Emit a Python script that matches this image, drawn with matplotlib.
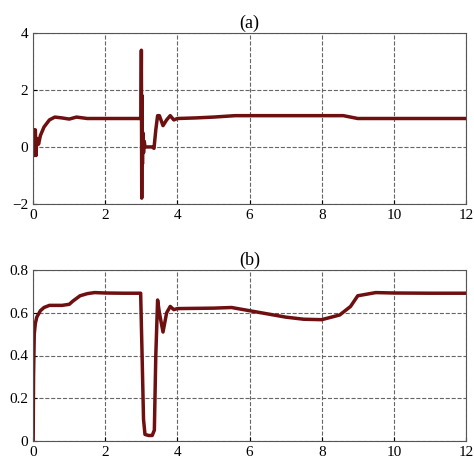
import numpy as np
import matplotlib
matplotlib.use("Agg")
import matplotlib.pyplot as plt

# panel (a) points
ta = [0.0, 0.02, 0.04, 0.06, 0.08, 0.1, 0.15, 0.2, 0.3, 0.45, 0.6, 0.8, 1.0, 1.2, 1.5, 2.0, 2.5, 2.97,
      2.99, 3.0, 3.01, 3.02, 3.03, 3.04, 3.06, 3.08, 3.1, 3.2, 3.3, 3.35, 3.4, 3.45, 3.5, 3.6, 3.7,
      3.8, 3.9, 4.0, 4.5, 5.0, 5.6, 6.0, 7.0, 8.0, 8.6, 8.8, 9.0, 10.0, 11.0, 12.0]
ya = [0.0, 0.6, -0.3, 0.6, -0.3, 0.3, 0.1, 0.4, 0.7, 0.95, 1.05, 1.02, 0.98, 1.05, 1.0, 1.0, 1.0, 1.0,
      1.0, 3.4, -1.8, 1.8, -0.6, 0.5, -0.2, 0.2, 0.0, 0.0, 0.0, -0.05, 0.6, 1.1, 1.1, 0.75, 0.95,
      1.1, 0.95, 1.0, 1.02, 1.05, 1.1, 1.1, 1.1, 1.1, 1.1, 1.05, 1.0, 1.0, 1.0, 1.0]

# panel (b)
tb = [0.0, 0.01, 0.03, 0.06, 0.1, 0.2, 0.3, 0.45, 0.6, 0.8, 1.0, 1.1, 1.3, 1.5, 1.7, 2.0, 2.5, 2.98,
      3.02, 3.06, 3.1, 3.2, 3.3, 3.36, 3.4, 3.45, 3.5, 3.6, 3.7, 3.8, 3.9, 4.0, 5.0, 5.5, 6.0, 6.5,
      7.0, 7.5, 8.0, 8.5, 8.8, 9.0, 9.5, 10.0, 11.0, 12.0]
yb = [0.0, 0.3, 0.5, 0.55, 0.58, 0.61, 0.625, 0.635, 0.635, 0.635, 0.64, 0.655, 0.68, 0.69, 0.695, 0.693, 0.692, 0.692,
      0.4, 0.1, 0.03, 0.025, 0.025, 0.05, 0.4, 0.66, 0.6, 0.51, 0.6, 0.63, 0.615, 0.62, 0.622, 0.625, 0.61, 0.595,
      0.58, 0.57, 0.568, 0.59, 0.63, 0.68, 0.695, 0.693, 0.692, 0.692]

col = "#6e0f10"
plt.rcParams["font.family"] = ["Liberation Serif", "DejaVu Serif"]
fig = plt.figure(figsize=(4.74, 4.74), dpi=100)
ax1 = fig.add_axes([0.07, 0.57, 0.913, 0.36])
ax2 = fig.add_axes([0.07, 0.07, 0.913, 0.36])

for ax, t, y, yl, yt, ttl in [(ax1, ta, ya, (-2, 4), [-2, 0, 2, 4], "(a)"),
                              (ax2, tb, yb, (0, 0.8), [0, 0.2, 0.4, 0.6, 0.8], "(b)")]:
    ax.plot(t, y, color=col, lw=2.5)
    ax.set_xlim(0, 12); ax.set_ylim(*yl)
    ax.set_xticks(range(0, 13, 2)); ax.set_yticks(yt)
    if ax is ax2:
        ax.set_yticklabels(["0", "0.2", "0.4", "0.6", "0.8"])
    ax.grid(True, ls="--", color="#666666", lw=0.8)
    ax.tick_params(labelsize=11, direction="in", length=3)
    for s in ax.spines.values():
        s.set_color("#555555")
    ax.set_title(ttl, fontsize=13, pad=4)

fig.savefig("out.png", dpi=100)
